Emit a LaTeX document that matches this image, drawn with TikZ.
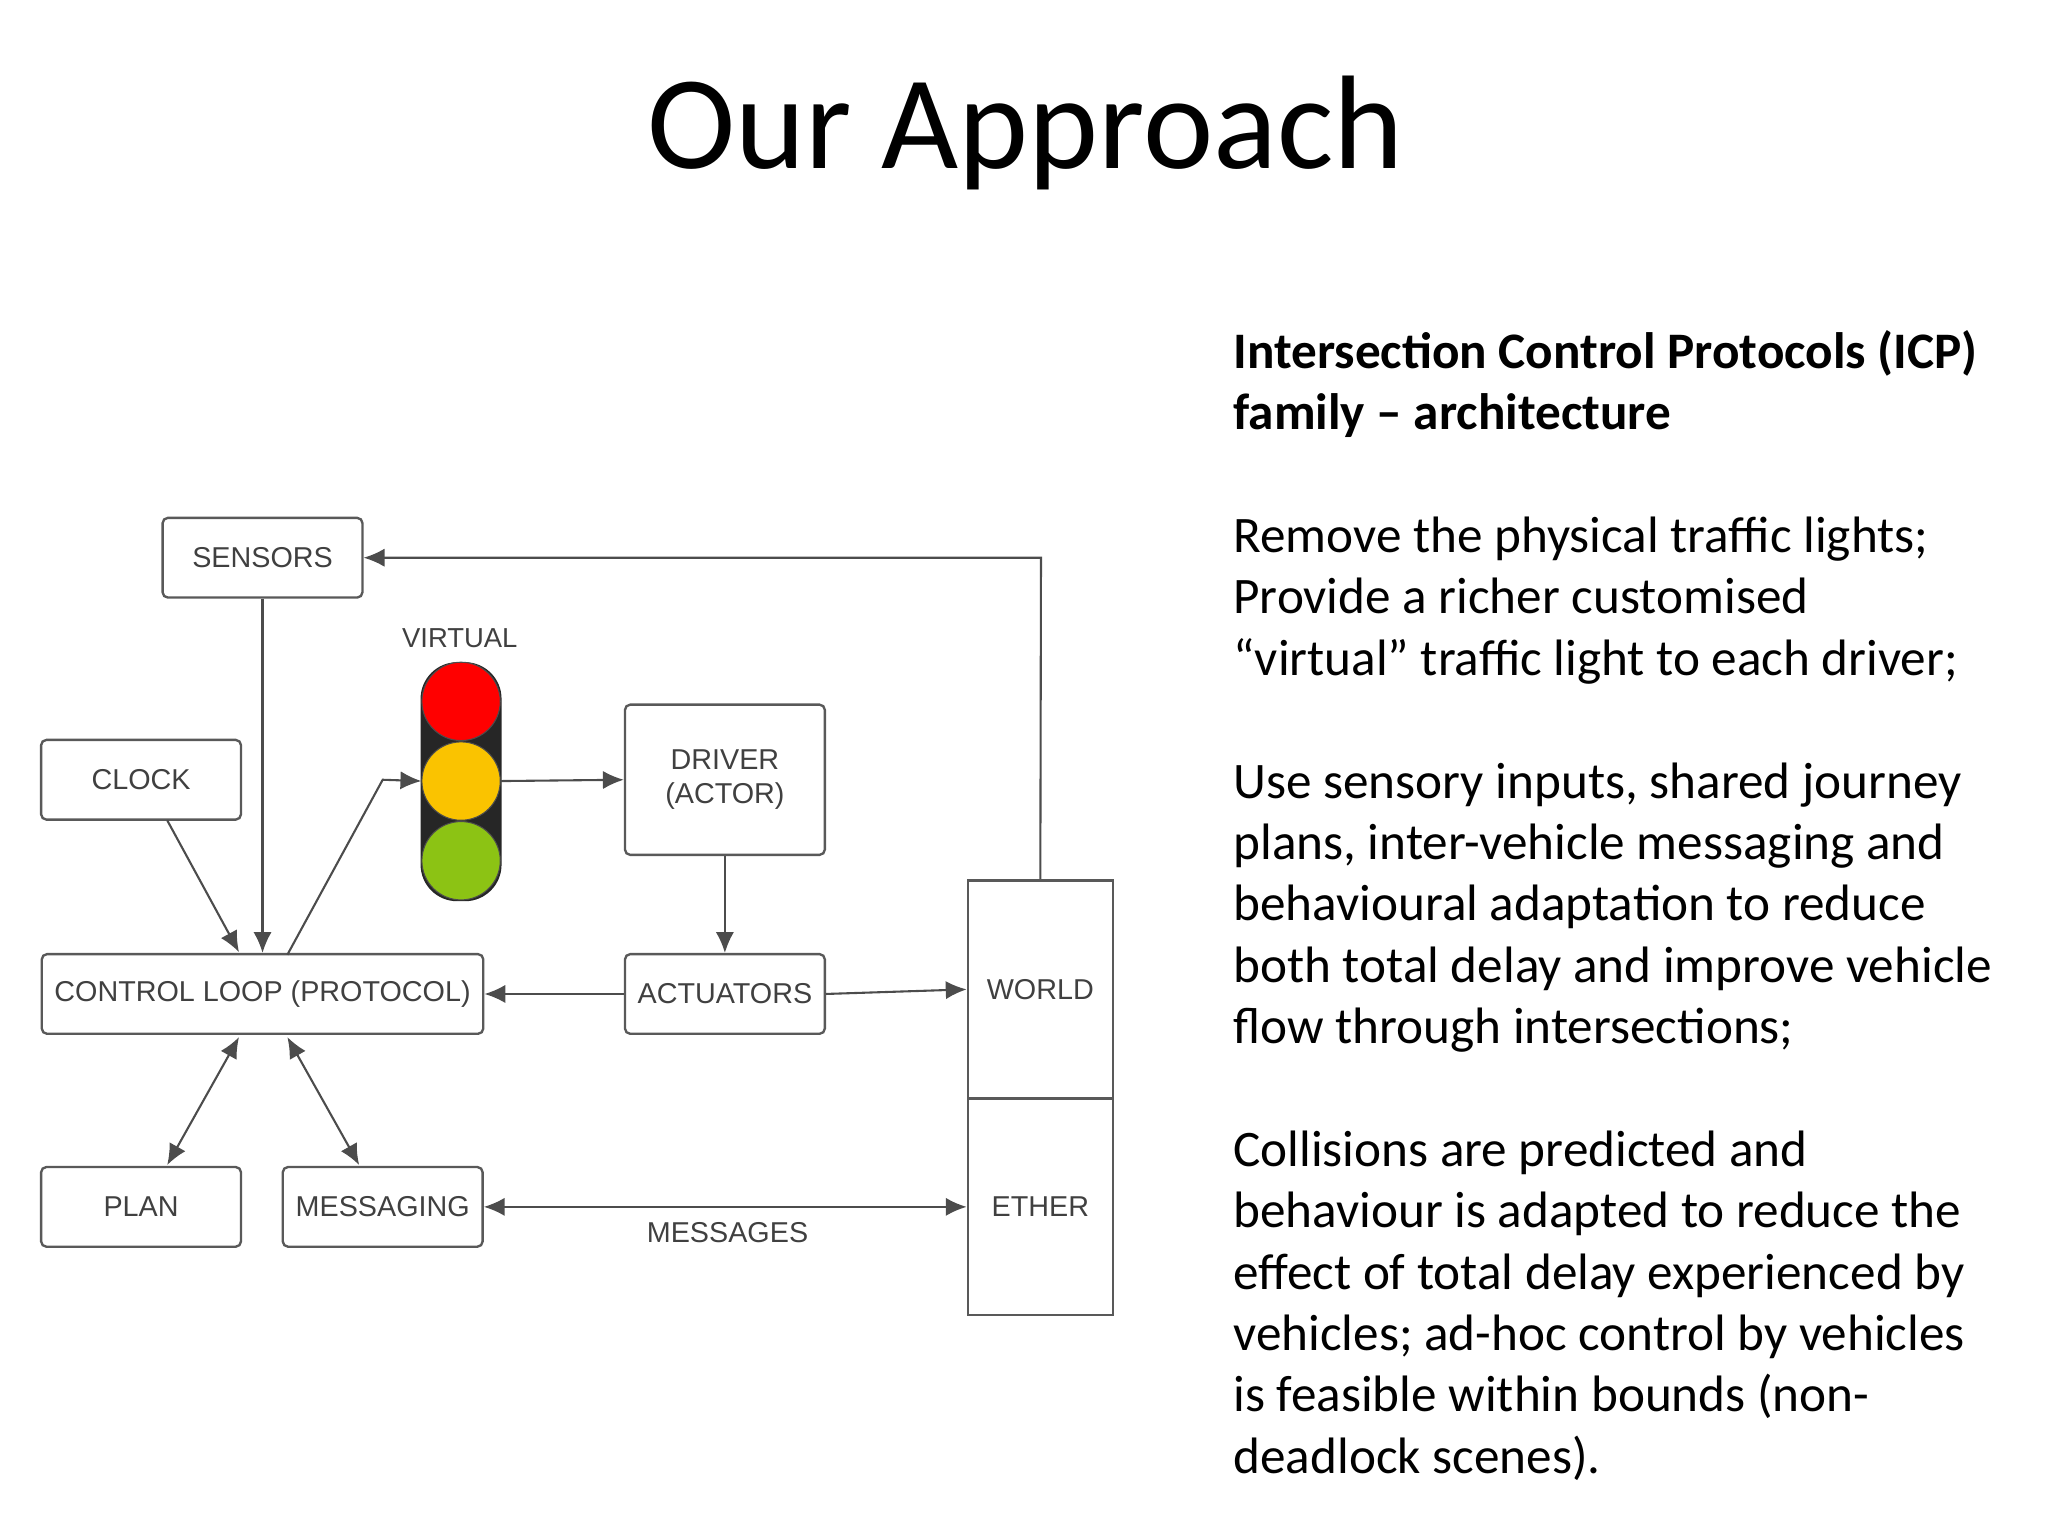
\documentclass[tikz,border=0pt]{standalone}
\usepackage{fontspec}
\setmainfont{Carlito}
\newfontfamily\diag{Liberation Sans}
\usetikzlibrary{arrows.meta}
\begin{document}
\begin{tikzpicture}[x=0.5pt,y=-0.5pt,
  box/.style={draw=black!65,line width=0.9pt,rounded corners=2pt,font=\diag\fontsize{11}{13}\selectfont,text=black!75,align=center,inner sep=0pt},
  ar/.style={draw=black!70,line width=0.8pt,-{Latex[length=8pt,width=7pt]}},
  br/.style={draw=black!70,line width=0.8pt,{Latex[length=8pt,width=7pt]}-{Latex[length=8pt,width=7pt]}},
  body/.style={anchor=base west,inner sep=0pt,font=\fontsize{19.6}{23.5}\selectfont}]
\useasboundingbox (0,0) rectangle (1568,1176);
\node[font=\fontsize{51}{56}\selectfont] (title) at (785,102) {Our Approach};
% boxes
\node[box,minimum width=76.5pt,minimum height=30.5pt] (sens) at (201,427) {SENSORS};
\node[box,minimum width=76.5pt,minimum height=30.5pt] (clock) at (108,597) {CLOCK};
\node[box,minimum width=169pt,minimum height=30.5pt] (ctrl) at (201,761) {CONTROL LOOP (PROTOCOL)};
\node[box,minimum width=76.5pt,minimum height=30.5pt] (plan) at (108,924) {PLAN};
\node[box,minimum width=76.5pt,minimum height=30.5pt] (msg) at (293,924) {MESSAGING};
\node[box,minimum width=76.5pt,minimum height=57.5pt] (drv) at (555,597) {DRIVER\\(ACTOR)};
\node[box,minimum width=76.5pt,minimum height=30.5pt] (act) at (555,761) {ACTUATORS};
\node[box,rounded corners=0pt,minimum width=55.5pt,minimum height=83.5pt] (world) at (796.5,757.5) {WORLD};
\node[box,rounded corners=0pt,minimum width=55.5pt,minimum height=83pt] (ether) at (796.5,924) {ETHER};
% traffic light
\node[font=\diag\fontsize{10.5}{13}\selectfont,text=black!75] (virt) at (352,489) {VIRTUAL};
\fill[black!85,rounded corners=14pt] (322,507) rectangle (384,690);
\node[circle,draw=black!70,fill=red,minimum size=30pt,inner sep=0pt] (red) at (353,537) {};
\node[circle,draw=black!70,fill={rgb,255:red,250;green,195;blue,0},minimum size=30pt,inner sep=0pt] (yel) at (353,598) {};
\node[circle,draw=black!70,fill={rgb,255:red,140;green,195;blue,20},minimum size=30pt,inner sep=0pt] (grn) at (353,659) {};
% connectors
\coordinate (wc) at (797,427);
\draw[ar] (world.north) -- (wc) -- (sens.east);
\draw[ar] (sens.south) -- (ctrl.north);
\draw[ar] (128,628) -- (183,729);
\coordinate (bend) at (293,597);
\draw[ar] (220,731) -- (bend) -- (yel.west);
\draw[ar] (yel.east) -- (drv.west);
\draw[ar] (drv.south) -- (act.north);
\draw[ar] (act.west) -- (ctrl.east);
\draw[ar] (act.east) -- (world.west);
\draw[br] (183,794) -- (128,892);
\draw[br] (220,794) -- (275,892);
\draw[br] (msg.east) -- (ether.west);
\node[font=\diag\fontsize{11}{13}\selectfont,text=black!75] (msgs) at (557,944) {MESSAGES};
% text
\node[body,font=\bfseries\fontsize{19.6}{23.5}\selectfont] (h1) at (944,282) {Intersection Control Protocols (ICP)};
\node[body,font=\bfseries\fontsize{19.6}{23.5}\selectfont] (h2) at (944,329) {family -- architecture};
\node[body] (a1) at (944,423) {Remove the physical traffic lights;};
\node[body] (a2) at (944,470) {Provide a richer customised};
\node[body] (a3) at (944,517) {“virtual” traffic light to each driver;};
\node[body] (b1) at (944,611) {Use sensory inputs, shared journey};
\node[body] (b2) at (944,658) {plans, inter-vehicle messaging and};
\node[body] (b3) at (944,705) {behavioural adaptation to reduce};
\node[body] (b4) at (944,752) {both total delay and improve vehicle};
\node[body] (b5) at (944,799) {flow through intersections;};
\node[body] (c1) at (944,893) {Collisions are predicted and};
\node[body] (c2) at (944,940) {behaviour is adapted to reduce the};
\node[body] (c3) at (944,987) {effect of total delay experienced by};
\node[body] (c4) at (944,1034) {vehicles; ad-hoc control by vehicles};
\node[body] (c5) at (944,1081) {is feasible within bounds (non-};
\node[body] (c6) at (944,1128) {deadlock scenes).};
\end{tikzpicture}
\end{document}
